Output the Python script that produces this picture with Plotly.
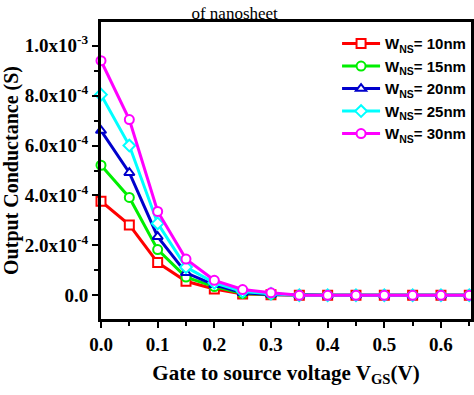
import plotly.graph_objects as go

vgs = [0.0, 0.05, 0.10, 0.15, 0.20, 0.25, 0.30, 0.35, 0.40, 0.45, 0.50, 0.55, 0.60, 0.65]
gd_10 = [3.77e-4, 2.82e-4, 1.31e-4, 0.56e-4, 0.25e-4, 0.05e-4, 0.02e-4, 0, 0, 0, 0, 0, 0, 0]
gd_15 = [5.21e-4, 3.92e-4, 1.83e-4, 0.73e-4, 0.35e-4, 0.07e-4, 0.03e-4, 0, 0, 0, 0, 0, 0, 0]
gd_20 = [6.60e-4, 4.91e-4, 2.35e-4, 0.90e-4, 0.42e-4, 0.10e-4, 0.03e-4, 0, 0, 0, 0, 0, 0, 0]
gd_25 = [8.04e-4, 6.00e-4, 2.88e-4, 1.13e-4, 0.50e-4, 0.15e-4, 0.06e-4, 0, 0, 0, 0, 0, 0, 0]
gd_30 = [9.40e-4, 7.04e-4, 3.36e-4, 1.45e-4, 0.60e-4, 0.23e-4, 0.10e-4, 0, 0, 0, 0, 0, 0, 0]

series_names = ["W<sub>NS</sub>= 10nm", "W<sub>NS</sub>= 15nm", "W<sub>NS</sub>= 20nm",
                "W<sub>NS</sub>= 25nm", "W<sub>NS</sub>= 30nm"]
series_vals = [gd_10, gd_15, gd_20, gd_25, gd_30]
colors = ["#ff0000", "#00ee00", "#0000cc", "#00ffff", "#ff00ff"]
symbols = ["square", "circle", "triangle-up", "diamond", "circle"]

y_tickvals = [0, 2e-4, 4e-4, 6e-4, 8e-4, 1e-3]
y_ticktext = ["0.0", "2.0x10<sup>-4</sup>", "4.0x10<sup>-4</sup>", "6.0x10<sup>-4</sup>",
              "8.0x10<sup>-4</sup>", "1.0x10<sup>-3</sup>"]
y_minorvals = [1e-4, 3e-4, 5e-4, 7e-4, 9e-4]
x_tickvals = [0.0, 0.1, 0.2, 0.3, 0.4, 0.5, 0.6]
x_ticktext = ["0.0", "0.1", "0.2", "0.3", "0.4", "0.5", "0.6"]
x_minorvals = [0.05, 0.15, 0.25, 0.35, 0.45, 0.55, 0.65]

fig = go.Figure()
for name, vals, c, s in zip(series_names, series_vals, colors, symbols):
    fig.add_trace(go.Scatter(
        x=vgs, y=vals, name=name, mode="lines+markers",
        line=dict(color=c, width=3),
        marker=dict(symbol=s, size=9, color="white", line=dict(color=c, width=2)),
        cliponaxis=False,
    ))

serif = "Liberation Serif"
fig.update_layout(
    width=474, height=395,
    margin=dict(l=101, r=3, t=22, b=76),
    paper_bgcolor="white", plot_bgcolor="white",
    showlegend=True,
    legend=dict(x=0.638, y=0.982, xanchor="left", yanchor="top",
                font=dict(family="Liberation Sans", size=15, color="black", weight="bold"),
                bgcolor="rgba(0,0,0,0)", tracegroupgap=0, itemwidth=38),
    title=dict(text="of nanosheet", x=0.495, xanchor="center", y=0.968, yanchor="middle",
               font=dict(family=serif, size=17, color="black")),
    xaxis=dict(range=[0, 0.653], tickvals=x_tickvals, ticktext=x_ticktext, automargin=False,
               showline=True, linewidth=3, linecolor="black", mirror=True,
               ticks="outside", ticklen=6, tickwidth=2, tickcolor="black",
               minor=dict(ticks="outside", ticklen=4, tickwidth=2, tickcolor="black",
                          tickvals=x_minorvals),
               showgrid=False, zeroline=False,
               tickfont=dict(family=serif, size=19, color="black", weight="bold"),
               title=dict(text="Gate to source voltage V<sub>GS</sub>(V)", standoff=12,
                          font=dict(family=serif, size=21, color="black", weight="bold"))),
    yaxis=dict(range=[-0.95e-4, 1.095e-3], tickvals=y_tickvals, ticktext=y_ticktext,
               automargin=False,
               showline=True, linewidth=3, linecolor="black", mirror=True,
               ticks="outside", ticklen=6, tickwidth=2, tickcolor="black",
               minor=dict(ticks="outside", ticklen=4, tickwidth=2, tickcolor="black",
                          tickvals=y_minorvals),
               showgrid=False, zeroline=False,
               tickfont=dict(family=serif, size=19, color="black", weight="bold"),
               title=dict(text="Output Conductance (S)", standoff=4,
                          font=dict(family=serif, size=20, color="black", weight="bold"))),
)

fig.write_html("out.html", config={"displayModeBar": False},
               post_script="document.body.style.margin='0';")
